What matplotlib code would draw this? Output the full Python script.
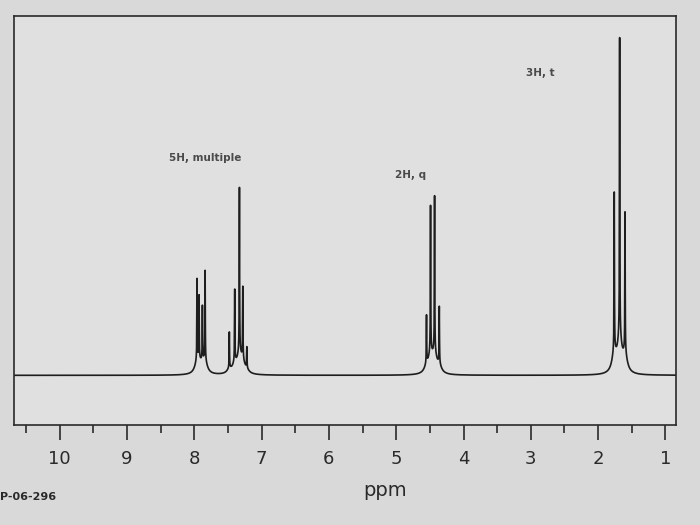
#!/usr/bin/env python

# 1H NMR spectrum with multiplet labels (ethyl benzoate-like)

import numpy
import matplotlib
matplotlib.use('Agg')
import matplotlib.pyplot as plt
from matplotlib.ticker import MultipleLocator

# Peak list: shift (ppm), relative height
arom1_ppm=[7.96,7.93,7.88,7.84]
arom1_h=[0.27,0.21,0.18,0.30]
arom2_ppm=[7.48,7.40,7.33,7.28,7.22]
arom2_h=[0.12,0.24,0.55,0.24,0.07]
quart_ppm=[4.55,4.49,4.43,4.36]
quart_h=[0.16,0.49,0.52,0.19]
trip_ppm=[1.76,1.68,1.60]
trip_h=[0.53,1.00,0.47]

# Labels above each group: text, ppm, height
labels=['5H, multiple','2H, q','3H, t']
label_ppm=[7.84,4.79,2.86]
label_h=[0.63,0.58,0.88]

tick_vals=[10,9,8,7,6,5,4,3,2,1]

fig=plt.figure(figsize=(7,5.25),dpi=100,facecolor='#d9d9d9')
ax=fig.add_axes([0.02,0.19,0.945,0.78])
ax.set_facecolor('#e0e0e0')

# Build the trace from Lorentzian lines
ppm=numpy.linspace(0.5,11.0,40000)
spec=numpy.zeros_like(ppm)
width=0.003
foot=0.04
for p_list,h_list in ((arom1_ppm,arom1_h),(arom2_ppm,arom2_h),
                      (quart_ppm,quart_h),(trip_ppm,trip_h)):
    for p,h in zip(p_list,h_list):
        spec=spec+0.88*h*width**2/((ppm-p)**2+width**2)
        # broad foot under each line
        spec=spec+0.1*h*foot**2/((ppm-p)**2+foot**2)

ax.plot(ppm,spec,color='#1e1e1e',linewidth=1.2)

for txt,p,h in zip(labels,label_ppm,label_h):
    ax.text(p,h,txt,ha='center',va='bottom',fontsize=7.5,
            fontweight='bold',color='#4a4a4a')

ax.set_xlim(10.68,0.85)
ax.set_ylim(-0.148,1.066)
ax.set_yticks([])
ax.set_xticks(tick_vals)
ax.set_xticklabels([str(v) for v in tick_vals])
ax.xaxis.set_minor_locator(MultipleLocator(0.5))
ax.tick_params(axis='x',which='major',direction='out',length=11,
               width=1.2,labelsize=13,color='#2a2a2a',labelcolor='#2a2a2a',pad=7)
ax.tick_params(axis='x',which='minor',direction='out',length=6,
               width=1.2,color='#2a2a2a')
for s in ax.spines.values():
    s.set_color('#2a2a2a')
    s.set_linewidth(1.2)

fig.text(0.55,0.065,'ppm',ha='center',va='center',fontsize=14,color='#2a2a2a')
fig.text(0.0,0.053,'P-06-296',ha='left',va='center',fontsize=8,
         fontweight='bold',color='#2a2a2a')

fig.savefig('out.png',dpi=100,facecolor=fig.get_facecolor())
